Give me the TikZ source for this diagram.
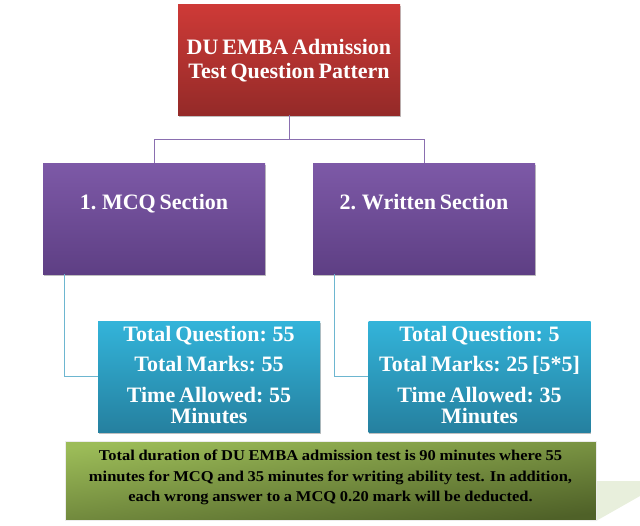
\documentclass[tikz,border=0pt]{standalone}
\usepackage{fontspec}
\setmainfont{Liberation Serif}[BoldFont={Liberation Serif Bold}]
\newfontfamily\titlefont{Liberation Serif Bold}[WordSpace=0.7]
\newfontfamily\notefont{Liberation Serif Bold}[FakeStretch=1.1,WordSpace=0.9]
\usetikzlibrary{shadows}
\definecolor{linkpurple}{HTML}{8A6FB0}
\definecolor{linkblue}{HTML}{6DB6D0}
\definecolor{purpleTop}{HTML}{7D59A7}
\definecolor{purpleBot}{HTML}{5E3F84}
\definecolor{blueTop}{HTML}{33B4DA}
\definecolor{blueBot}{HTML}{25809F}
\definecolor{noteTop}{HTML}{9CBC58}
\definecolor{noteBot}{HTML}{4F6128}
\definecolor{redTop}{HTML}{CE3A37}
\definecolor{redBot}{HTML}{942A28}
\definecolor{palegreen}{HTML}{E8EFDC}
\tikzset{
  boxbase/.style={rectangle,inner sep=0pt,minimum width=222pt,minimum height=111pt,align=center,text=white,
    drop shadow={shadow xshift=0.5pt,shadow yshift=-2pt,opacity=0.25,fill=black}},
  redbox/.style={boxbase,top color=redTop,bottom color=redBot,font=\titlefont\fontsize{22}{24}\selectfont},
  purplebox/.style={boxbase,top color=purpleTop,bottom color=purpleBot,font=\titlefont\fontsize{22}{24}\selectfont},
  bluebox/.style={boxbase,top color=blueTop,bottom color=blueBot,font=\titlefont\fontsize{22}{21}\selectfont},
  notebox/.style={rectangle,inner sep=0pt,minimum width=531pt,minimum height=79pt,align=center,text=black,
    draw=white!85!gray,line width=0.6pt,top color=noteTop,bottom color=noteBot,shading angle=7,
    font=\notefont\fontsize{15}{20.5}\selectfont},
  linkp/.style={draw=linkpurple,line width=1pt},
  linkb/.style={draw=linkblue,line width=1pt}
}
\begin{document}
\begin{tikzpicture}[x=1pt,y=-1pt]
\useasboundingbox (0,0) rectangle (640,525);
\fill[palegreen] (590,481) -- (640,481) -- (640,496) -- (596,521) -- (590,521) -- cycle;
\node[redbox] (top) at (289,59.5) {\rule{0pt}{17pt}DU EMBA Admission\\Test Question Pattern};
\node[purplebox] (p1) at (154,218.5) {1. MCQ Section\\[2pt]\strut};
\node[purplebox] (p2) at (424,218.5) {2. Written Section\\[2pt]\strut};
\node[bluebox] (b1) at (209,376.5) {Total Question: 55\\[9.5pt]Total Marks: 55\\[9.5pt]Time Allowed: 55\\Minutes\\[-24pt]\strut};
\node[bluebox] (b2) at (479.5,376.5) {Total Question: 5\\[9.5pt]Total Marks: 25 [5*5]\\[9.5pt]Time Allowed: 35\\Minutes\\[-24pt]\strut};
\node[notebox] (note) at (330.5,480.5) {Total duration of DU EMBA admission test is 90 minutes where 55\\minutes for MCQ and 35 minutes for writing ability test. In addition,\\each wrong answer to a MCQ 0.20 mark will be deducted.\\[-18pt]\strut};
\draw[linkp] (top.south) -- ++(0,24) -| (p1.north);
\draw[linkp] (top.south) -- ++(0,24) -| (p2.north);
\draw[linkb] ([xshift=22pt]p1.south west) |- (b1.west);
\draw[linkb] ([xshift=22pt]p2.south west) |- (b2.west);
\end{tikzpicture}
\end{document}
